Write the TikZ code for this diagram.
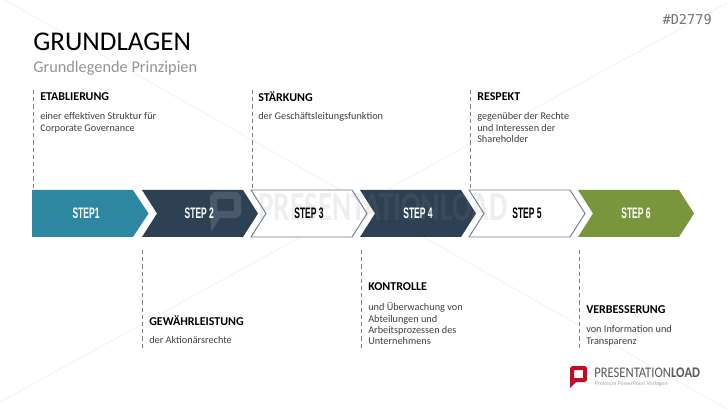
\documentclass[tikz,border=0pt]{standalone}
\usepackage{fontspec}
\setmainfont{Carlito}
\newfontfamily\stepfont{Liberation Sans}
\newfontfamily\codefont{DejaVu Sans Mono}
\definecolor{teal1}{HTML}{2E87A0}
\definecolor{navy1}{HTML}{2E4054}
\definecolor{green1}{HTML}{7A963C}
\definecolor{edge1}{HTML}{6E7C90}
\definecolor{logored}{HTML}{C00D23}
\tikzset{
  x=0.75pt,y=-0.75pt,
  headtext/.style={font=\fontsize{9pt}{10pt}\selectfont\bfseries,anchor=west,inner sep=0pt,text=black},
  bodytext/.style={font=\fontsize{7.7pt}{8.5pt}\selectfont,anchor=north west,inner sep=0pt,align=left,text=black!75},
  steplabel/.style={font=\stepfont\bfseries\fontsize{11.4pt}{12pt}\selectfont,inner sep=0pt},
  guide/.style={draw=black!50,line width=0.6pt,dash pattern=on 3.2pt off 2.2pt},
  outlined/.style={fill=white,draw=edge1,line width=0.7pt},
  faint/.style={draw=black!6,line width=0.5pt},
}
\newcommand{\chev}[2]{% style, left x
  \path[#1] (#2,190) -- (#2+101,190) -- (#2+116,213.5) -- (#2+101,237) -- (#2,237) -- (#2+15,213.5) -- cycle;}
\newcommand{\steptxt}[1]{\scalebox{0.56}[1]{#1}}
\begin{document}
\begin{tikzpicture}
\useasboundingbox (0,0) rectangle (727,409);
\fill[white] (0,0) rectangle (727,409);
% background diagonals
\draw[faint] (5,0) -- (727,409);
\draw[faint] (0,402) -- (727,3);
% header
\node[font=\fontsize{20.3pt}{22pt}\selectfont,anchor=west,inner sep=0pt] (title) at (33,42) {GRUNDLAGEN};
\node[font=\fontsize{12.25pt}{13pt}\selectfont,anchor=west,inner sep=0pt,text=black!42] (subtitle) at (33,68.5) {Grundlegende Prinzipien};
\node[font=\codefont\fontsize{10.2pt}{12pt}\selectfont,anchor=east,inner sep=0pt,text=black!55] (code) at (712,20) {\#D2779};
% dashed guides
\coordinate (t1) at (33,90); \coordinate (t1e) at (33,190);
\coordinate (t3) at (252,90); \coordinate (t3e) at (252,190);
\coordinate (t5) at (470.5,90); \coordinate (t5e) at (470.5,190);
\coordinate (b2) at (142,250); \coordinate (b2e) at (142,348);
\coordinate (b4) at (361,250); \coordinate (b4e) at (361,348);
\coordinate (b6) at (579.5,250); \coordinate (b6e) at (579.5,348);
\draw[guide] (t1) -- (t1e);
\draw[guide] (t3) -- (t3e);
\draw[guide] (t5) -- (t5e);
\draw[guide] (b2) -- (b2e);
\draw[guide] (b4) -- (b4e);
\draw[guide] (b6) -- (b6e);
% arrows
\path[fill=teal1] (32,190) -- (133,190) -- (148.5,213.5) -- (133,237) -- (32,237) -- cycle;
\chev{fill=navy1}{142}
\chev{outlined}{251}
\chev{fill=navy1}{360}
\chev{outlined}{469}
\chev{fill=green1}{578}
% watermark
\node[font=\bfseries\fontsize{31pt}{32pt}\selectfont,anchor=west,inner sep=0pt,text=black!45,opacity=0.14] (mark) at (258,207) {\scalebox{0.706}[1]{PRESENTATIONLOAD}};
\path[fill=black!35,opacity=0.25,even odd rule] (214,192) -- (237,192) -- (241,196) -- (241,214) -- (237,218) -- (220,218) -- (211,232) -- (210,196) -- cycle
  (217,199) -- (234,199) -- (234,211) -- (217,211) -- cycle;
% step labels
\node[steplabel,text=white] (s1) at (86,213.5) {\steptxt{STEP1}};
\node[steplabel,text=white] (s2) at (199.3,213.5) {\steptxt{STEP 2}};
\node[steplabel,text=black] (s3) at (309,213.5) {\steptxt{STEP 3}};
\node[steplabel,text=white] (s4) at (418,213.5) {\steptxt{STEP 4}};
\node[steplabel,text=black] (s5) at (527,213.5) {\steptxt{STEP 5}};
\node[steplabel,text=white] (s6) at (636,213.5) {\steptxt{STEP 6}};
% upper texts
\node[headtext] (h1) at (40,96.5) {ETABLIERUNG};
\node[bodytext] (d1) at (40,112.5) {einer effektiven Struktur für\\Corporate Governance};
\node[headtext] (h3) at (258,96.5) {STÄRKUNG};
\node[bodytext] (d3) at (258,112.5) {der Geschäftsleitungsfunktion};
\node[headtext] (h5) at (477,96.5) {RESPEKT};
\node[bodytext] (d5) at (477,112.5) {gegenüber der Rechte\\und Interessen der\\Shareholder};
% lower texts
\node[headtext] (h2) at (149,320.5) {GEWÄHRLEISTUNG};
\node[bodytext] (d2) at (149,336.5) {der Aktionärsrechte};
\node[headtext] (h4) at (368,286.5) {KONTROLLE};
\node[bodytext] (d4) at (368,302.5) {und Überwachung von\\Abteilungen und\\Arbeitsprozessen des\\Unternehmens};
\node[headtext] (h6) at (586,309.5) {VERBESSERUNG};
\node[bodytext] (d6) at (586,325.5) {von Information und\\Transparenz};
% logo
\path[fill=logored,even odd rule] (572,366) -- (585,366) -- (587,368) -- (587,380) -- (585,382) -- (576,382) -- (570,388) -- (570,368) -- cycle
  (574,370) -- (583,370) -- (583,378) -- (574,378) -- cycle;
\node[font=\fontsize{11pt}{12pt}\selectfont,anchor=west,inner sep=0pt,text=black!65] (logo) at (594,373) {\scalebox{0.86}[1]{PRESENTATION\textbf{LOAD}}};
\node[font=\fontsize{4.4pt}{5pt}\selectfont,anchor=west,inner sep=0pt,text=black!35] (logosub) at (594.5,384) {Premium PowerPoint Vorlagen};
\end{tikzpicture}
\end{document}
